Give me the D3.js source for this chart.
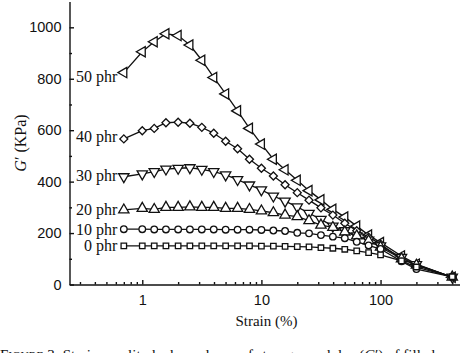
<!DOCTYPE html>
<html>
<head>
<meta charset="utf-8">
<script src="https://cdn.jsdelivr.net/npm/d3@7"></script>
<style>
  body { margin: 0; background: #fff; }
  svg { display: block; font-family: "Liberation Serif", "Times New Roman", serif; }
</style>
</head>
<body>
<div id="chart"></div>
<script>
// strain values (%) shared by every curve
var strain = [0.7, 1, 1.26, 1.58, 2, 2.51, 3.16, 3.98, 5.01, 6.31, 7.94, 10,
  12.6, 15.8, 20, 25.1, 31.6, 39.8, 50.1, 63.1, 79.4, 100, 150, 200, 400];

// G' (KPa) per filler loading
var g50 = [824, 905, 944, 975, 968, 931, 872, 805, 741, 675, 607, 546, 487, 446, 405, 365, 329, 292, 262, 227, 192, 163, 111, 79, 28];
var g40 = [566, 598, 607, 629, 631, 627, 611, 588, 557, 528, 487, 452, 422, 388, 357, 328, 298, 270, 238, 209, 184, 157, 98, 76, 28];
var g30 = [419, 430, 439, 449, 452, 454, 448, 439, 426, 408, 387, 368, 344, 324, 302, 277, 253, 227, 209, 189, 173, 150, 105, 77, 29];
var g20 = [290, 296, 292, 300, 300, 302, 300, 300, 296, 296, 292, 286, 279, 270, 264, 248, 231, 222, 204, 189, 170, 145, 100, 75, 29];
var g10 = [215, 215, 214, 214, 214, 214, 214, 214, 213, 213, 213, 212, 210, 208, 201, 199, 192, 186, 180, 166, 152, 138, 90, 60, 30];
var g0  = [150, 150, 150, 150, 150, 150, 150, 150, 150, 150, 150, 149, 149, 148, 147, 146, 143, 141, 137, 131, 124, 115, 92, 68, 30];

var seriesNames = ["50 phr", "40 phr", "30 phr", "20 phr", "10 phr", "0 phr"];
var seriesValues = [g50, g40, g30, g20, g10, g0];

var yTicks = [0, 200, 400, 600, 800, 1000];
var xTicks = [1, 10, 100];

var width = 474, height = 353;

var svg = d3.select("#chart")
  .append("svg")
    .attr("width", width)
    .attr("height", height);

// scales
var x = d3.scaleLog()
  .domain([0.245, 460])
  .range([69.5, 459.5]);

var y = d3.scaleLinear()
  .domain([0, 1100])
  .range([284.5, 1.6]);

// minor ticks
var xMinor = [];
[0.1, 1, 10, 100].forEach(function(dec) {
  for (var k = 2; k <= 9; k++) {
    var v = dec * k;
    if (v > x.domain()[0] && v < x.domain()[1]) xMinor.push(v);
  }
});
var yMinor = [100, 300, 500, 700, 900];

svg.append("g")
  .attr("transform", "translate(0,284.5)")
  .call(d3.axisBottom(x).tickValues(xMinor).tickSize(-2.5).tickSizeOuter(0).tickFormat(""))
  .call(function(g) { g.select(".domain").remove(); });

svg.append("g")
  .attr("transform", "translate(69.5,0)")
  .call(d3.axisLeft(y).tickValues(yMinor).tickSize(-2.5).tickSizeOuter(0).tickFormat(""))
  .call(function(g) { g.select(".domain").remove(); });

// X axis
var xAxis = svg.append("g")
  .attr("transform", "translate(0,284.5)")
  .call(d3.axisBottom(x).tickValues(xTicks).tickSize(-4.5).tickSizeOuter(0)
    .tickPadding(10).tickFormat(d3.format("d")));
xAxis.selectAll("text").style("font-size", "14.5px").attr("fill", "#111");

// Y axis
var yAxis = svg.append("g")
  .attr("transform", "translate(69.5,0)")
  .call(d3.axisLeft(y).tickValues(yTicks).tickSize(-4.5).tickSizeOuter(0)
    .tickPadding(8).tickFormat(d3.format("d")));
yAxis.selectAll("text").style("font-size", "14.5px").attr("fill", "#111");

svg.selectAll(".domain, .tick line").attr("stroke", "#111").attr("stroke-width", 1.4);

// axis labels
svg.append("text")
  .attr("x", 266.5)
  .attr("y", 326)
  .attr("text-anchor", "middle")
  .style("font-size", "15px")
  .attr("fill", "#111")
  .text("Strain (%)");

var ylab = svg.append("text")
  .attr("transform", "translate(26,143) rotate(-90)")
  .attr("text-anchor", "middle")
  .style("font-size", "16px")
  .attr("fill", "#111");
ylab.append("tspan").style("font-style", "italic").text("G");
ylab.append("tspan").text("\u2032 (KPa)");

// curves
var line = d3.line()
  .x(function(d) { return x(d.s); })
  .y(function(d) { return y(d.g); });

var shapes = [
  { type: d3.symbolTriangle, size: 46, rot: -90 },
  { type: d3.symbolSquare, size: 32, rot: 45 },
  { type: d3.symbolTriangle, size: 46, rot: 180 },
  { type: d3.symbolTriangle, size: 46, rot: 0 },
  { type: d3.symbolCircle, size: 34, rot: 0 },
  { type: d3.symbolSquare, size: 30, rot: 0 }
];

// small vertical nudges so labels sit like the original
var labelNudge = [4, -2, -1, 0, 0, 0];

seriesValues.forEach(function(vals, i) {
  var pts = vals.map(function(v, j) { return { s: strain[j], g: v }; });

  svg.append("path")
    .datum(pts)
    .attr("fill", "none")
    .attr("stroke", "#111")
    .attr("stroke-width", 1.3)
    .attr("d", line);

  var sym = d3.symbol().type(shapes[i].type).size(shapes[i].size);
  svg.selectAll(".m" + i)
    .data(pts)
    .enter()
    .append("path")
      .attr("class", "m" + i)
      .attr("d", sym)
      .attr("transform", function(d) {
        return "translate(" + x(d.s) + "," + y(d.g) + ") rotate(" + shapes[i].rot + ")";
      })
      .attr("fill", "#fff")
      .attr("stroke", "#111")
      .attr("stroke-width", 1.3);

  svg.append("text")
    .attr("x", x(strain[0]) - 6.5)
    .attr("y", y(vals[0]) + labelNudge[i])
    .attr("text-anchor", "end")
    .attr("dominant-baseline", "central")
    .style("font-size", "16px")
    .attr("fill", "#111")
    .text(seriesNames[i]);
});

// caption, cut off at the bottom edge like the source image
var cap = svg.append("text")
  .attr("x", 0)
  .attr("y", 360)
  .style("font-size", "15px")
  .attr("fill", "#111");
cap.append("tspan").text("F");
cap.append("tspan").style("font-size", "11.5px").text("IGURE");
cap.append("tspan").text(" 3: Strain amplitude dependence of storage modulus (");
cap.append("tspan").style("font-style", "italic").text("G");
cap.append("tspan").text("\u2032) of filled");
</script>
</body>
</html>
